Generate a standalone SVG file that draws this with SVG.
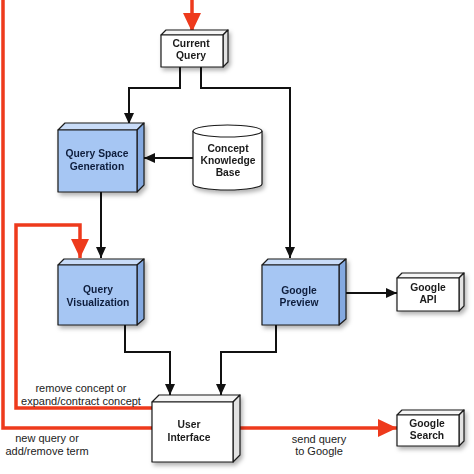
<svg xmlns="http://www.w3.org/2000/svg" width="474" height="474" viewBox="0 0 474 474">
<style>
.bg{fill:#ffffff}
.edge{fill:none;stroke:#111;stroke-width:2}
.red{fill:none;stroke:#EE3A1C;stroke-width:3.5}
.fb{fill:#A6C6F3;stroke:#1a1a1a;stroke-width:1.2;stroke-linejoin:round}
.tb{fill:#C9DCF8;stroke:#1a1a1a;stroke-width:1.2;stroke-linejoin:round}
.sb{fill:#84A9E0;stroke:#1a1a1a;stroke-width:1.2;stroke-linejoin:round}
.fw{fill:#ffffff;stroke:#1a1a1a;stroke-width:1.2;stroke-linejoin:round}
.tw{fill:#f5f5f5;stroke:#1a1a1a;stroke-width:1.2;stroke-linejoin:round}
.sw{fill:#e2e2e2;stroke:#1a1a1a;stroke-width:1.2;stroke-linejoin:round}
.nl{font-family:"Liberation Sans",Arial,sans-serif;font-weight:bold;font-size:10.3px;fill:#1a1a1a;text-anchor:middle}
.nb{fill:#0f1e3c}
.el{font-family:"Liberation Sans",Arial,sans-serif;font-size:11px;fill:#222;text-anchor:middle}
</style>
<defs>
<filter id="sh" x="-20%" y="-20%" width="150%" height="150%">
<feDropShadow dx="2" dy="3" stdDeviation="2" flood-color="#000" flood-opacity="0.3"/>
</filter>
<marker id="ab" markerUnits="userSpaceOnUse" markerWidth="12" markerHeight="12" refX="11" refY="5.5" orient="auto">
<path d="M0,0.5 L11,5.5 L0,10.5 Z" fill="#111"/>
</marker>
<marker id="ar" markerUnits="userSpaceOnUse" markerWidth="20" markerHeight="20" refX="19" refY="9.5" orient="auto">
<path d="M0,0.5 L19,9.5 L0,18.5 Z" fill="#EE3A1C"/>
</marker>
</defs>
<rect class="bg" x="0" y="0" width="474" height="474"/>

<g id="connectors">
<path class="edge" d="M180,67 V88 H129 V124" marker-end="url(#ab)"/>
<path class="edge" d="M201,67 V88 H290 V258" marker-end="url(#ab)"/>
<path class="edge" d="M193,158 H144" marker-end="url(#ab)"/>
<path class="edge" d="M101,192 V258" marker-end="url(#ab)"/>
<path class="edge" d="M125,325 V352 H170 V395" marker-end="url(#ab)"/>
<path class="edge" d="M276,325 V352 H221 V395" marker-end="url(#ab)"/>
<path class="edge" d="M346,293 H397" marker-end="url(#ab)"/>
<path class="red" d="M3,0 V428 H153"/>
<path class="red" d="M153,408 H16 V225 H80 V258" marker-end="url(#ar)"/>
<path class="red" d="M192,0 V32" marker-end="url(#ar)"/>
<path class="red" d="M238,428 H397" marker-end="url(#ar)"/>
</g>

<g id="current-query" filter="url(#sh)">
<path class="tw" d="M161,35 L166,30 L228,30 L223,35 Z"/>
<path class="sw" d="M223,35 L228,30 L228,62 L223,67 Z"/>
<rect class="fw" x="161" y="35" width="62" height="32"/>
<text class="nl" x="191" y="47">Current</text>
<text class="nl" x="191" y="59">Query</text>
</g>

<g id="query-space-generation" filter="url(#sh)">
<path class="tb" d="M58,130 L65,123 L144,123 L137,130 Z"/>
<path class="sb" d="M137,130 L144,123 L144,185 L137,192 Z"/>
<rect class="fb" x="58" y="130" width="79" height="62"/>
<text class="nl nb" x="97" y="157">Query Space</text>
<text class="nl nb" x="97" y="170">Generation</text>
</g>

<g id="concept-knowledge-base" filter="url(#sh)">
<path class="fw" d="M193,131 V184 A34.5,6 0 0 0 262,184 V131"/>
<ellipse class="fw" cx="227.5" cy="131" rx="34.5" ry="6"/>
<text class="nl" x="228" y="152">Concept</text>
<text class="nl" x="228" y="164">Knowledge</text>
<text class="nl" x="228" y="176">Base</text>
</g>

<g id="query-visualization" filter="url(#sh)">
<path class="tb" d="M58,265 L64,259 L144,259 L137,265 Z"/>
<path class="sb" d="M137,265 L144,259 L144,319 L137,325 Z"/>
<rect class="fb" x="58" y="265" width="79" height="60"/>
<text class="nl nb" x="98" y="293">Query</text>
<text class="nl nb" x="98" y="306">Visualization</text>
</g>

<g id="google-preview" filter="url(#sh)">
<path class="tb" d="M262,265 L268,259 L346,259 L339,265 Z"/>
<path class="sb" d="M339,265 L346,259 L346,319 L339,325 Z"/>
<rect class="fb" x="262" y="265" width="77" height="60"/>
<text class="nl nb" x="299" y="294">Google</text>
<text class="nl nb" x="299" y="306">Preview</text>
</g>

<g id="google-api" filter="url(#sh)">
<path class="tw" d="M397,278 L402,273 L464,273 L459,278 Z"/>
<path class="sw" d="M459,278 L464,273 L464,306 L459,311 Z"/>
<rect class="fw" x="397" y="278" width="62" height="33"/>
<text class="nl" x="428" y="291">Google</text>
<text class="nl" x="428" y="303">API</text>
</g>

<g id="user-interface" filter="url(#sh)">
<path class="tw" d="M152,402 L159,395 L240,395 L233,402 Z"/>
<path class="sw" d="M233,402 L240,395 L240,455 L233,462 Z"/>
<rect class="fw" x="152" y="402" width="81" height="60"/>
<text class="nl" x="189" y="428">User</text>
<text class="nl" x="189" y="441">Interface</text>
</g>

<g id="google-search" filter="url(#sh)">
<path class="tw" d="M397,415 L402,410 L464,410 L459,415 Z"/>
<path class="sw" d="M459,415 L464,410 L464,441 L459,446 Z"/>
<rect class="fw" x="397" y="415" width="62" height="31"/>
<text class="nl" x="427" y="427">Google</text>
<text class="nl" x="427" y="439">Search</text>
</g>

<g id="edge-labels">
<text class="el" x="81" y="392">remove concept or</text>
<text class="el" x="81" y="405">expand/contract concept</text>
<text class="el" x="47" y="442">new query or</text>
<text class="el" x="47" y="455">add/remove term</text>
<text class="el" x="319" y="443">send query</text>
<text class="el" x="319" y="455">to Google</text>
</g>
</svg>
